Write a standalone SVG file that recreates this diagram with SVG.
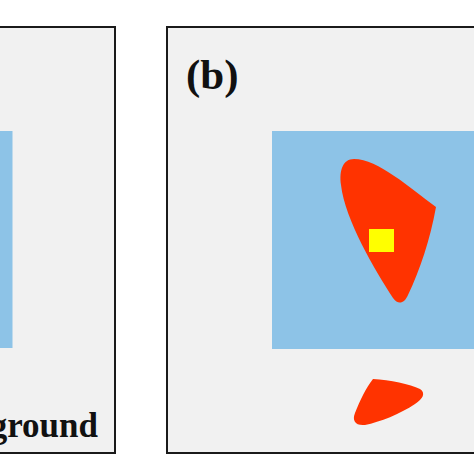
<svg xmlns="http://www.w3.org/2000/svg" width="474" height="474" viewBox="0 0 474 474">
  <style>
    .panel { fill: #f1f1f1; stroke: #1a1a1a; stroke-width: 2; }
    .region { fill: #8dc3e7; }
    .obj { fill: #ff3300; }
    .core { fill: #ffff00; }
    .lbl { font-family: "Liberation Serif", "DejaVu Serif", serif; font-weight: bold; fill: #111; }
  </style>
  <rect width="474" height="474" fill="#ffffff"/>
  <g id="panel-a">
    <rect class="panel" x="-10" y="27" width="125" height="426"/>
    <rect class="region" x="-10" y="131" width="22.5" height="217"/>
    <text class="lbl" x="98" y="437" font-size="35" text-anchor="end">ground</text>
  </g>
  <g id="panel-b">
    <rect class="panel" x="167" y="27" width="320" height="426"/>
    <rect class="region" x="272" y="131" width="210" height="218"/>
    <text class="lbl" x="186" y="89" font-size="43">(b)</text>
    <path id="blob-1" class="obj" d="M 354 159 C 343 159, 339 170, 341 185 C 345 220, 375 270, 393 298 C 398 305, 404 304, 408 295 C 420 270, 430 240, 436 207 C 410 188, 378 159, 354 159 Z"/>
    <rect id="core-1" class="core" x="369" y="229" width="25" height="23"/>
    <path id="blob-2" class="obj" d="M 373 379 C 390 380, 410 384, 420 389 C 426 393, 423 399, 415 404 C 400 414, 380 422, 365 425 C 355 426, 352 420, 355 413 C 360 400, 366 388, 373 379 Z"/>
  </g>
  <g id="connectors"/>
</svg>
